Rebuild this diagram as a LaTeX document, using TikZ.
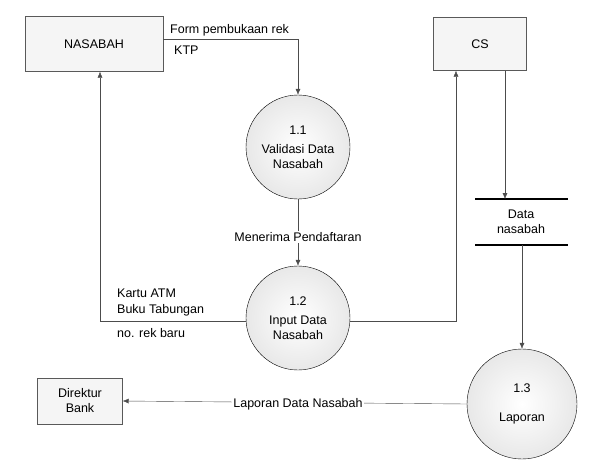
\documentclass[tikz,border=0pt]{standalone}
\usepackage{fontspec}
\setmainfont{Liberation Sans}
\usetikzlibrary{arrows.meta}
\begin{document}
\begin{tikzpicture}[x=1pt,y=-1pt,font=\fontsize{12.5}{15}\selectfont,
  ent/.style={draw=gray!70!black,fill=gray!8,minimum width=#1,inner sep=0pt},
  proc/.style={circle,draw=black,inner color=white,outer color=gray!18,minimum size=104pt,align=center,inner sep=0pt},
  flow/.style={draw=gray!60!black,-{Latex[length=6pt,width=5pt]}},
  lab/.style={inner sep=1pt}]
\useasboundingbox (0,0) rectangle (605,461);
\node[ent=138pt,minimum height=55pt] (nas) at (94,44) {NASABAH};
\node[ent=93pt,minimum height=53pt] (cs) at (480,44) {CS};
\node[ent=85pt,minimum height=46pt,align=center] (dir) at (80,401) {Direktur\\Bank};
\node[proc] (p1) at (298,147) {1.1\\[4pt]Validasi Data\\Nasabah};
\node[proc] (p2) at (298,318) {1.2\\[4pt]Input Data\\Nasabah};
\node[proc,minimum size=110pt] (p3) at (522,404) {1.3\\[14pt]Laporan};
\coordinate (dsa) at (475,199); \coordinate (dsb) at (568,199);
\coordinate (dsc) at (475,245); \coordinate (dsd) at (568,245);
\draw[line width=2.5pt] (dsa) -- (dsb);
\draw[line width=2.5pt] (dsc) -- (dsd);
\node[align=center] (ds) at (521,222) {Data\\nasabah};
\coordinate (c1) at (298,39);
\draw[flow] (nas.east |- c1) -- (c1) -- (p1.north);
\node[lab,anchor=west] (l1) at (169,30) {Form pembukaan rek};
\node[lab,anchor=west] (l2) at (173,50) {KTP};
\draw[flow] (p1.south) -- (p2.north);
\node[lab,fill=white] (l3) at (298,237) {Menerima Pendaftaran};
\coordinate (c2) at (100,321);
\draw[flow] (p2.west |- c2) -- (c2) -- (c2 |- nas.south);
\node[lab,anchor=west] (l4) at (116,293) {Kartu ATM};
\node[lab,anchor=west] (l5) at (116,310) {Buku Tabungan};
\node[lab,anchor=west] (l6) at (116,333) {no. rek baru};
\coordinate (c3) at (456,321);
\draw[flow] (p2.east |- c3) -- (c3) -- (c3 |- cs.south);
\coordinate (c4) at (505,199);
\draw[flow] (c4 |- cs.south) -- (c4);
\coordinate (c5) at (522,245);
\draw[flow] (c5) -- (p3.north);
\draw[flow] (p3.west) -- (dir.east);
\node[lab,fill=white] (l7) at (298,404) {Laporan Data Nasabah};
\end{tikzpicture}
\end{document}
